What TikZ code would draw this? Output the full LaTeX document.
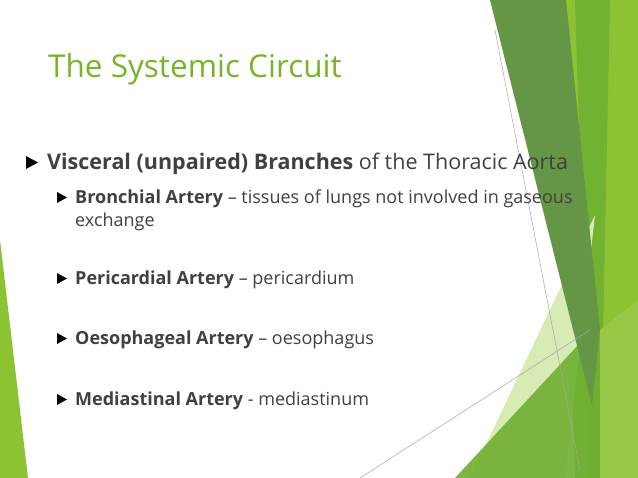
\documentclass[tikz,border=0pt]{standalone}
\usepackage{fontspec}
\setmainfont{Open Sans}
\definecolor{title}{RGB}{120,180,40}
\definecolor{dkg}{RGB}{100,150,70}
\definecolor{mdg}{RGB}{110,175,50}
\definecolor{lime}{RGB}{140,195,50}
\definecolor{pale}{RGB}{215,235,180}
\definecolor{txt}{RGB}{64,64,64}
\begin{document}
\begin{tikzpicture}[x=1pt,y=-1pt,
  bul/.style={fill=black},
  lvl1/.style={anchor=base west,font=\fontsize{21.5}{24}\selectfont,text=txt,inner sep=0},
  lvl2/.style={anchor=base west,font=\fontsize{18}{20}\selectfont,text=txt,inner sep=0}]
\useasboundingbox (0,0) rectangle (638,478);
% background shapes
\fill[lime] (560,0) -- (638,0) -- (638,478) -- (575,478) -- cycle;
\fill[mdg!85!lime] (575,0) -- (610,0) -- (600,478) -- (590,478) -- cycle;
\fill[pale] (595,215) -- (470,478) -- (565,478) -- cycle;
\fill[mdg,opacity=0.9] (592,330) -- (455,478) -- (625,478) -- cycle;
\fill[dkg] (490,0) -- (566,0) -- (600,330) -- (592,405) -- cycle;
\fill[lime!90!white] (600,330) -- (638,300) -- (638,478) -- (600,478) -- cycle;
\draw[gray!70,line width=0.5] (495,30) -- (580,470);
\draw[gray!70,line width=0.5] (360,478) -- (590,330);
\fill[lime] (0,240) -- (28,478) -- (0,478) -- cycle;
% title
\node[anchor=base west,font=\fontsize{31.5}{34}\selectfont,text=title,inner sep=0] (t) at (48,78) {The Systemic Circuit};
% bullets
\fill[bul] (26,156) -- (38,162.5) -- (26,169) -- cycle;
\foreach \y in {204,285,345,406}{\fill[bul] (57,\y-12) -- (67,\y-6.5) -- (57,\y-1) -- cycle;}
\node[lvl1] (a) at (47,170) {\textbf{Visceral (unpaired) Branches} of the Thoracic Aorta};
\node[lvl2] (b) at (75,204) {\textbf{Bronchial Artery} – tissues of lungs not involved in gaseous};
\node[lvl2] (b2) at (75,227) {exchange};
\node[lvl2] (c) at (75,285) {\textbf{Pericardial Artery} – pericardium};
\node[lvl2] (d) at (75,345) {\textbf{Oesophageal Artery} – oesophagus};
\node[lvl2] (e) at (75,406) {\textbf{Mediastinal Artery} - mediastinum};
\end{tikzpicture}
\end{document}
